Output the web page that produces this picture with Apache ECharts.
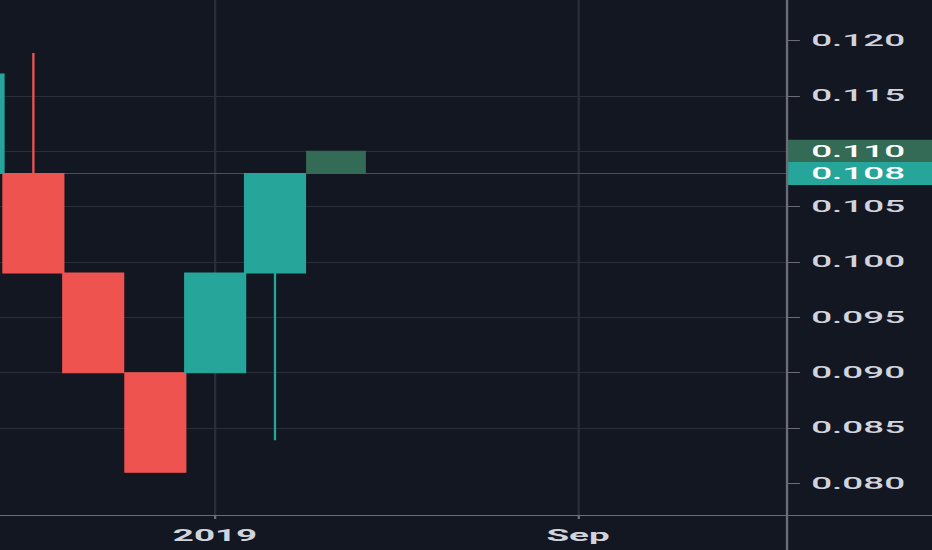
<!DOCTYPE html>
<html>
<head>
<meta charset="utf-8">
<script src="https://cdn.jsdelivr.net/npm/echarts@6.0.0/dist/echarts.min.js"></script>
<style>
  html, body { margin: 0; padding: 0; background: #131722; overflow: hidden; width: 932px; height: 550px; }
  #chart { width: 405px; height: 550px; transform: scaleX(2.301235); transform-origin: 0 0; }
</style>
</head>
<body>
<div id="chart"></div>
<script>
// ---- data (Renko bricks) ----
const brickSlot  = [0, 1, 2, 3, 4, 5, 6];
const brickOpen  = [0.108, 0.108, 0.099, 0.090, 0.090, 0.099, 0.108];
const brickClose = [0.117, 0.099, 0.090, 0.081, 0.099, 0.108, 0.110];
const brickLow   = [0.108, 0.099, 0.090, 0.081, 0.090, 0.0839, 0.108];
const brickHigh  = [0.117, 0.1189, 0.099, 0.090, 0.099, 0.108, 0.110];
const formingBrick = 6;               // the unfinished, still forming brick
const priceTags  = [0.110, 0.108];    // current brick level, last price
const yTicks     = [0.080, 0.085, 0.090, 0.095, 0.100, 0.105, 0.110, 0.115, 0.120];
const xTickPos   = [4, 10];
const xTickLabels = ['2019', 'Sep'];

// ---- layout (chart is drawn at 405px wide and stretched horizontally) ----
const W = 405, H = 550;
const PLOT_R = 342, PLOT_B = 515;
const X_MIN = 0.4463, X_MAX = 13.455;
const UP = '#26a69a', DOWN = '#ef5350', FORMING = '#336b56';
const GRID = '#2a2e39', AXIS = '#6b6e78', TEXT = '#d1d4dc';
const PRICE_LINE = '#1d6560';
const FONT = 'Roboto, "Noto Sans", sans-serif';

const rows = brickSlot.map((s, i) => {
  const row = { value: [s, brickOpen[i], brickClose[i], brickLow[i], brickHigh[i]] };
  if (i === formingBrick) {
    row.itemStyle = { color: FORMING, borderColor: FORMING, color0: FORMING, borderColor0: FORMING };
  }
  return row;
});

const tagLabel = bg => ({
  show: true, position: 'end', distance: 0, opacity: 1,
  formatter: p => Number(p.value).toFixed(3),
  color: '#ffffff', fontSize: 16, fontWeight: 500, fontFamily: FONT,
  backgroundColor: bg, padding: [2, 0, 0, 10.5],
  width: W - PLOT_R - 10.5, height: 21, lineHeight: 21, align: 'left', verticalAlign: 'middle'
});

const chart = echarts.init(document.getElementById('chart'), null, { renderer: 'svg' });
chart.setOption({
  backgroundColor: '#131722',
  animation: false,
  grid: { left: 0, right: W - PLOT_R, top: 0, bottom: H - PLOT_B, containLabel: false, outerBoundsMode: 'none' },
  xAxis: {
    type: 'value',
    min: X_MIN,
    max: X_MAX,
    splitNumber: 2,
    axisLine: { show: false },
    axisTick: { show: true, customValues: xTickPos, length: 4, lineStyle: { color: AXIS, width: 1 } },
    axisLabel: {
      customValues: xTickPos,
      formatter: v => { const k = xTickPos.indexOf(v); return k >= 0 ? xTickLabels[k] : ''; },
      color: TEXT, fontSize: 16, fontWeight: 'bold', fontFamily: FONT, margin: 13
    },
    splitLine: { show: true, lineStyle: { color: GRID, width: 1 } }
  },
  yAxis: {
    type: 'value',
    position: 'right',
    min: 0.077135,
    max: 0.12368,
    splitNumber: 9,
    scale: true,
    axisLine: { show: false },
    axisTick: { show: true, customValues: yTicks, length: 5.6, lineStyle: { color: AXIS, width: 1 } },
    axisLabel: {
      customValues: yTicks,
      formatter: v => v.toFixed(3),
      color: TEXT, fontSize: 16, fontWeight: 500, fontFamily: FONT, margin: 10.5,
      padding: [3, 0, 0, 0]
    },
    splitLine: { show: true, showMinLine: false, showMaxLine: false, lineStyle: { color: GRID, width: 1 } }
  },
  series: [
    {
      // last-price line across the pane
      type: 'line',
      name: 'last',
      color: PRICE_LINE,
      data: [[X_MIN, priceTags[1]], [X_MAX, priceTags[1]]],
      symbol: 'none',
      showSymbol: false,
      silent: true,
      z: 1,
      itemStyle: { color: PRICE_LINE },
      lineStyle: { color: PRICE_LINE, width: 1, type: 'solid', opacity: 1 },
      emphasis: { disabled: true }
    },
    {
      type: 'candlestick',
      clip: true,
      z: 2,
      barWidth: 26.29,
      encode: { x: 0, y: [1, 2, 3, 4] },
      itemStyle: { color: UP, color0: DOWN, borderColor: UP, borderColor0: DOWN, borderWidth: 1 },
      data: rows
    },
    {
      // price tags on the scale
      type: 'line',
      name: 'tags',
      data: [],
      symbol: 'none',
      silent: true,
      markLine: {
        silent: true,
        symbol: 'none',
        animation: false,
        precision: 4,
        lineStyle: { color: 'rgba(0,0,0,0)', width: 1, type: 'solid' },
        emphasis: { disabled: true },
        data: [
          { yAxis: priceTags[0], label: tagLabel(FORMING) },
          { yAxis: priceTags[1], label: tagLabel(UP) }
        ]
      }
    }
  ],
  graphic: [
    { type: 'line', silent: true, z: 100, shape: { x1: PLOT_R, y1: 0, x2: PLOT_R, y2: H }, style: { stroke: AXIS, lineWidth: 1 } },
    { type: 'line', silent: true, z: 100, shape: { x1: 0, y1: PLOT_B + 0.5, x2: W, y2: PLOT_B + 0.5 }, style: { stroke: AXIS, lineWidth: 1 } }
  ]
});
</script>
</body>
</html>
